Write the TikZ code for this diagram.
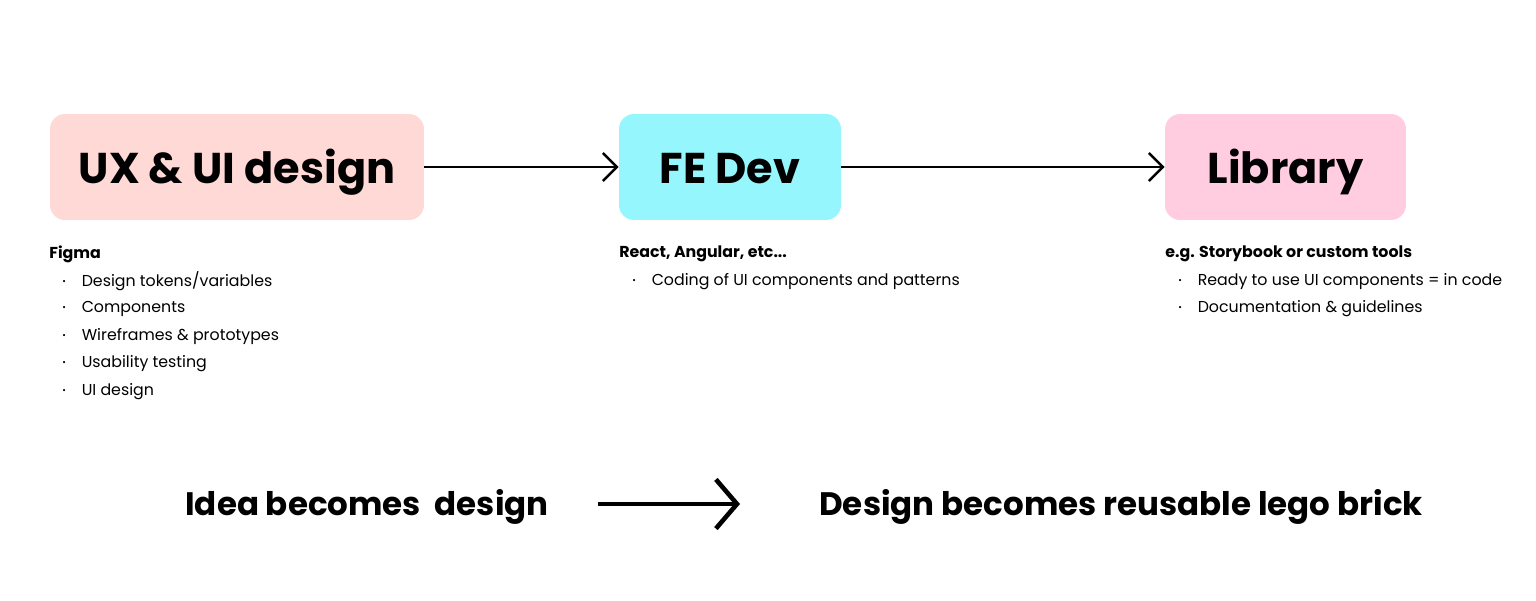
\documentclass[tikz,border=0pt]{standalone}
\usepackage{fontspec}
\setmainfont{Poppins}
\usetikzlibrary{arrows.meta}
\definecolor{uxc}{HTML}{FFD9D6}
\definecolor{fec}{HTML}{95F7FD}
\definecolor{libc}{HTML}{FFCCE0}
\newcommand{\bul}{\raisebox{0.25ex}{\fontsize{5}{5}\selectfont•}\hspace{9pt}}
\begin{document}
\begin{tikzpicture}[x=0.02cm,y=-0.02cm,
  box/.style={rounded corners=0.3cm,inner sep=0pt,text height=1.9em,text depth=0em,font=\fontsize{24.5}{30}\selectfont\bfseries},
  conn/.style={-{Straight Barb[length=8pt,width=16pt,line width=1.4pt]},line width=1.4pt},
  head/.style={anchor=west,inner sep=0pt,font=\fontsize{9}{11}\selectfont\bfseries},
  item/.style={anchor=west,inner sep=0pt,font=\fontsize{9}{11}\selectfont},
  big/.style={inner sep=0pt,font=\fontsize{18.5}{22}\selectfont\bfseries}]
\useasboundingbox (0,0) rectangle (1536,601);
\node[box,fill=uxc,minimum width=7.48cm,minimum height=2.12cm] (ux) at (237,167) {UX \& UI design};
\node[box,fill=fec,minimum width=4.44cm,minimum height=2.12cm] (fe) at (730,167) {FE Dev};
\node[box,fill=libc,minimum width=4.82cm,minimum height=2.12cm] (lib) at (1285.5,167) {Library};
\draw[conn] (ux) -- (fe);
\draw[conn] (fe) -- (lib);
\node[head] (h1) at (49,254) {Figma};
\foreach \t [count=\i] in {Design tokens/variables,Components,Wireframes \& prototypes,Usability testing,UI design}{
  \node[item] (a\i) at (62,254+27.5*\i) {\bul\t};}
\node[head] (h2) at (619,254) {React, Angular, etc...};
\node[item] (b1) at (632,281.5) {\bul Coding of UI components and patterns};
\node[head] (h3) at (1165,254) {e.g. Storybook or custom tools};
\node[item] (c1) at (1178,281.5) {\bul Ready to use UI components = in code};
\node[item] (c2) at (1178,309) {\bul Documentation \& guidelines};
\node[big,anchor=west] (l) at (185,507) {Idea becomes\ \ design};
\node[big,anchor=west] (r) at (819,507) {Design becomes reusable lego brick};
\coordinate (p1) at (598,504);
\coordinate (p2) at (740,504);
\draw[-{Straight Barb[length=12pt,width=28pt,line width=2.6pt]},line width=2.6pt] (p1) -- (p2);
\end{tikzpicture}
\end{document}
